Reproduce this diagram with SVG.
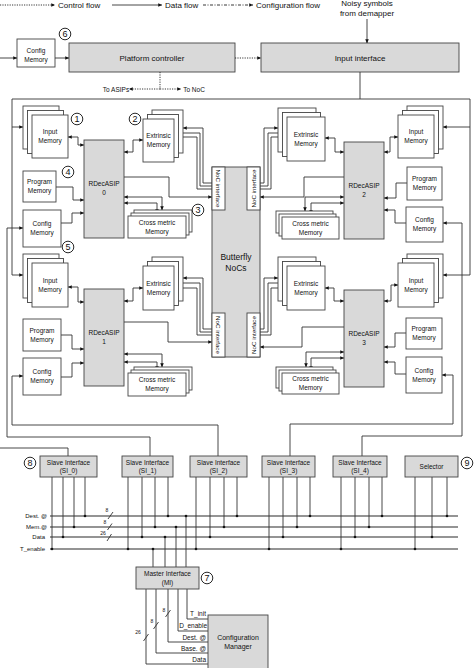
<svg xmlns="http://www.w3.org/2000/svg" width="474" height="668" viewBox="0 0 474 668">
<defs>
<marker id="ah" viewBox="0 0 6 6" refX="5.6" refY="3" markerWidth="4" markerHeight="4" markerUnits="userSpaceOnUse" orient="auto-start-reverse"><path d="M0,0.3 L6,3 L0,5.7z" fill="#111"/></marker>
</defs>
<style>
.w{fill:#fff;stroke:#444;stroke-width:0.9}
.g{fill:#d9d9d9;stroke:#444;stroke-width:0.9}
.ln{fill:none;stroke:#333;stroke-width:0.9}
.bus{fill:none;stroke:#2a2a2a;stroke-width:1.2}
.ctl{fill:none;stroke:#222;stroke-width:0.9;stroke-dasharray:1.2 1.2}
.cfg{fill:none;stroke:#222;stroke-width:0.9;stroke-dasharray:3 1.5 1 1.5}
text{font-family:"Liberation Sans",Arial,sans-serif;fill:#111}
.t{font-size:6.5px;text-anchor:middle}
.L{font-size:8px}
.Lm{font-size:8px;text-anchor:middle}
.s{font-size:6px;text-anchor:end}
.n{font-size:5px;text-anchor:middle}
.dot{fill:#111}
.c{fill:#fff;stroke:#111;stroke-width:0.9}
.cn{font-size:9px;text-anchor:middle}
.ni{font-size:6.2px;text-anchor:middle}
</style>

<g id="legend">
<line class="ctl" x1="0" y1="5" x2="55" y2="5" marker-end="url(#ah)"/>
<text class="L" x="58" y="8">Control flow</text>
<line class="ln" x1="112" y1="5" x2="162" y2="5" marker-end="url(#ah)"/>
<text class="L" x="165" y="8">Data flow</text>
<line class="cfg" x1="203" y1="5" x2="253" y2="5" marker-end="url(#ah)"/>
<text class="L" x="256" y="8">Configuration flow</text>
<text class="Lm" x="367" y="5.5">Noisy symbols</text>
<text class="Lm" x="367" y="15.5">from demapper</text>
</g>

<g id="config-memory-top"><rect class="w" x="17" y="39" width="38" height="28"/><text class="t" x="36" y="53">Config</text><text class="t" x="36" y="62">Memory</text>
<circle class="c" cx="65" cy="34" r="5.8"/><text class="cn" x="65" y="37.2">6</text></g>
<g id="platform-controller"><rect class="g" x="69" y="43" width="166" height="29"/><text class="Lm" x="152" y="60.5">Platform controller</text></g>
<g id="input-interface"><rect class="g" x="261" y="43" width="198" height="29"/><text class="Lm" x="360" y="60.5">Input interface</text></g>
<g id="to-labels"><text class="t" x="116" y="91.5">To ASIPs</text><text class="t" x="194" y="91.5">To NoC</text></g>

<g id="connectors">
<line class="ln" x1="367" y1="19" x2="367" y2="43" marker-end="url(#ah)"/>
<line class="ln" x1="0" y1="58" x2="17" y2="58" marker-end="url(#ah)"/>
<line class="ln" x1="55" y1="58" x2="69" y2="58" marker-end="url(#ah)"/>
<line class="ctl" x1="235" y1="58" x2="261" y2="58" marker-end="url(#ah)"/>
<line class="ctl" x1="160" y1="72" x2="160" y2="89"/>
<line class="ctl" x1="160" y1="89" x2="129" y2="89" marker-end="url(#ah)"/>
<line class="ctl" x1="160" y1="89" x2="181" y2="89" marker-end="url(#ah)"/>
<path class="ln" d="M360,72 V99"/>
<path class="ln" d="M470,99 H12 V275 H23" marker-end="url(#ah)"/>
<path class="ln" d="M12,127 H23" marker-end="url(#ah)"/>
<path class="ln" d="M470,99 V275 H443" marker-end="url(#ah)"/>
<path class="ln" d="M470,127 H443" marker-end="url(#ah)"/>
<path class="ln" d="M56,187 H73 V200 H84" marker-end="url(#ah)"/>
<path class="ln" d="M61,223 H72 V213 H84" marker-end="url(#ah)"/>
<path class="ln" d="M61,335 H72 V349 H84" marker-end="url(#ah)"/>
<path class="ln" d="M61,377 H72 V363 H84" marker-end="url(#ah)"/>
<path class="ln" d="M407,183 H396 V198 H384" marker-end="url(#ah)"/>
<path class="ln" d="M406,223 H395 V210 H384" marker-end="url(#ah)"/>
<path class="ln" d="M406,333 H395 V347 H384" marker-end="url(#ah)"/>
<path class="ln" d="M406,374 H395 V362 H384" marker-end="url(#ah)"/>
<path class="ln" d="M68,137 H78 V145 H84" marker-start="url(#ah)" marker-end="url(#ah)"/>
<path class="ln" d="M68,287 H78 V302 H84" marker-start="url(#ah)" marker-end="url(#ah)"/>
<path class="ln" d="M398,137 H390 V152 H384" marker-start="url(#ah)" marker-end="url(#ah)"/>
<path class="ln" d="M398,285 H391 V301 H384" marker-start="url(#ah)" marker-end="url(#ah)"/>
<path class="ln" d="M124,152 H133 V140 H143" marker-start="url(#ah)" marker-end="url(#ah)"/>
<path class="ln" d="M124,301 H133 V288 H143" marker-start="url(#ah)" marker-end="url(#ah)"/>
<path class="ln" d="M325,138 H335 V152 H344" marker-start="url(#ah)" marker-end="url(#ah)"/>
<path class="ln" d="M325,288 H334 V301 H344" marker-start="url(#ah)" marker-end="url(#ah)"/>
<path class="ln" d="M124,197 H162 V210" marker-start="url(#ah)" marker-end="url(#ah)"/>
<path class="ln" d="M124,203 H157 V213" marker-start="url(#ah)" marker-end="url(#ah)"/>
<path class="ln" d="M124,354 H162 V367" marker-start="url(#ah)" marker-end="url(#ah)"/>
<path class="ln" d="M124,362 H157 V370" marker-start="url(#ah)" marker-end="url(#ah)"/>
<path class="ln" d="M344,197 H305 V211" marker-start="url(#ah)" marker-end="url(#ah)"/>
<path class="ln" d="M344,203 H311 V214" marker-start="url(#ah)" marker-end="url(#ah)"/>
<path class="ln" d="M344,352 H306 V367" marker-start="url(#ah)" marker-end="url(#ah)"/>
<path class="ln" d="M344,358 H311 V370" marker-start="url(#ah)" marker-end="url(#ah)"/>
<path class="ln" d="M124,177 H169 V197 H212" marker-end="url(#ah)"/>
<path class="ln" d="M124,322 H168 V342 H212" marker-end="url(#ah)"/>
<path class="ln" d="M344,177 H304 V197 H260" marker-end="url(#ah)"/>
<path class="ln" d="M344,327 H302 V347 H260" marker-end="url(#ah)"/>
<path class="ln" d="M212,183 H203 V128 H183" marker-end="url(#ah)"/>
<path class="ln" d="M212,186 H200 V133 H178.5" marker-end="url(#ah)"/>
<path class="ln" d="M212,189 H197 V137 H174" marker-end="url(#ah)"/>
<path class="ln" d="M212,329 H203 V278 H183" marker-end="url(#ah)"/>
<path class="ln" d="M212,332 H200 V283 H178.5" marker-end="url(#ah)"/>
<path class="ln" d="M212,335 H197 V288 H174" marker-end="url(#ah)"/>
<path class="ln" d="M260,183 H264 V128 H278" marker-end="url(#ah)"/>
<path class="ln" d="M260,186 H268 V133 H282.5" marker-end="url(#ah)"/>
<path class="ln" d="M260,189 H271 V137 H287" marker-end="url(#ah)"/>
<path class="ln" d="M260,329 H264 V278 H278" marker-end="url(#ah)"/>
<path class="ln" d="M260,332 H268 V283 H282.5" marker-end="url(#ah)"/>
<path class="ln" d="M260,335 H271 V288 H287" marker-end="url(#ah)"/>
<path class="ln" d="M150,456 V437 H7 V228 H23" marker-end="url(#ah)"/>
<path class="ln" d="M218,456 V425 H12 V376 H23" marker-end="url(#ah)"/>
<path class="ln" d="M290,456 V424 H453 V375 H442" marker-end="url(#ah)"/>
<path class="ln" d="M362,456 V436 H462 V223 H443" marker-end="url(#ah)"/>
<path class="ln" d="M0,448 H68 V456"/>
<path class="bus" d="M50,516 H458 M50,527 H458 M50,537 H458 M50,549 H458"/>
<path class="ln" d="M52,477 V549 M63,477 V537 M74,477 V527 M85,477 V516
M128,477 V549 M142,477 V537 M155,477 V527 M168,477 V516
M196,477 V549 M210,477 V537 M224,477 V527 M237,477 V516
M269,477 V549 M283,477 V537 M297,477 V527 M310,477 V516
M341,477 V549 M355,477 V537 M369,477 V527 M382,477 V516
M415,477 V549 M432,477 V537 M447,477 V516
M153,567 V549 M165,567 V537 M176,567 V527 M186,567 V516"/>
<g class="dot">
<circle cx="52" cy="549" r="1.3"/><circle cx="128" cy="549" r="1.3"/><circle cx="153" cy="549" r="1.3"/><circle cx="196" cy="549" r="1.3"/><circle cx="269" cy="549" r="1.3"/><circle cx="341" cy="549" r="1.3"/><circle cx="415" cy="549" r="1.3"/>
<circle cx="63" cy="537" r="1.3"/><circle cx="142" cy="537" r="1.3"/><circle cx="165" cy="537" r="1.3"/><circle cx="210" cy="537" r="1.3"/><circle cx="283" cy="537" r="1.3"/><circle cx="355" cy="537" r="1.3"/><circle cx="432" cy="537" r="1.3"/>
<circle cx="74" cy="527" r="1.3"/><circle cx="155" cy="527" r="1.3"/><circle cx="176" cy="527" r="1.3"/><circle cx="224" cy="527" r="1.3"/><circle cx="297" cy="527" r="1.3"/><circle cx="369" cy="527" r="1.3"/>
<circle cx="85" cy="516" r="1.3"/><circle cx="168" cy="516" r="1.3"/><circle cx="186" cy="516" r="1.3"/><circle cx="237" cy="516" r="1.3"/><circle cx="310" cy="516" r="1.3"/><circle cx="382" cy="516" r="1.3"/><circle cx="447" cy="516" r="1.3"/>
</g>
<path class="ln" d="M108,519 L113,512 M107.5,530 L112,523.5 M107,541 L111.5,534"/>
<path class="ln" d="M146,589 V664 H208 M156,589 V653 H208 M168,589 V642 H208 M178,589 V631 H208 M187,589 V619 H208"/>
<path class="ln" d="M143.5,641 L148.5,634 M153.5,629 L158.5,622 M165.5,617 L170.5,610"/>
</g>

<g id="bus-labels">
<text class="s" x="47" y="518">Dest. @</text>
<text class="s" x="47" y="529">Mem.@</text>
<text class="s" x="45" y="539">Data</text>
<text class="s" x="45" y="551">T_enable</text>
<text class="n" x="107" y="512">8</text>
<text class="n" x="105" y="524">8</text>
<text class="n" x="103" y="535">26</text>
<text class="n" x="138" y="634">26</text>
<text class="n" x="152" y="623">8</text>
<text class="n" x="164" y="612">8</text>
<text class="s" x="206" y="616" style="font-size:6.5px">T_init</text>
<text class="s" x="207" y="628" style="font-size:6.5px">D_enable</text>
<text class="s" x="206" y="639.5" style="font-size:6.5px">Dest. @</text>
<text class="s" x="206" y="650.5" style="font-size:6.5px">Base. @</text>
<text class="s" x="206" y="662" style="font-size:6.5px">Data</text>
</g>

<g id="input-memory-0"><rect class="w" x="23" y="106" width="36" height="43"/><rect class="w" x="27.5" y="110.5" width="36" height="43"/><rect class="w" x="32" y="115" width="36" height="43"/><text class="t" x="50" y="134.3">Input</text><text class="t" x="50" y="143.3">Memory</text>
<circle class="c" cx="77" cy="119" r="5.8"/><text class="cn" x="77" y="122.2">1</text></g>
<g id="extrinsic-memory-0"><rect class="w" x="152" y="110" width="31" height="43"/><rect class="w" x="147.5" y="114.5" width="31" height="43"/><rect class="w" x="143" y="119" width="31" height="43"/><text class="t" x="158.5" y="138.3">Extrinsic</text><text class="t" x="158.5" y="147.3">Memory</text>
<circle class="c" cx="135" cy="119" r="5.8"/><text class="cn" x="135" y="122.2">2</text></g>
<g id="rdecasip-0"><rect class="g" x="84" y="140" width="40" height="98"/><text class="t" x="104" y="186.3">RDecASIP</text><text class="t" x="104" y="195.3">0</text></g>
<g id="program-memory-0"><rect class="w" x="23" y="171" width="33" height="31"/><text class="t" x="39.5" y="184.3">Program</text><text class="t" x="39.5" y="193.3">Memory</text>
<circle class="c" cx="68" cy="172" r="5.8"/><text class="cn" x="68" y="175.2">4</text></g>
<g id="config-memory-0"><rect class="w" x="23" y="210" width="38" height="37"/><text class="t" x="42" y="226.3">Config</text><text class="t" x="42" y="235.3">Memory</text>
<circle class="c" cx="68" cy="247" r="5.8"/><text class="cn" x="68" y="250.2">5</text></g>
<g id="cross-metric-memory-0"><rect class="w" x="134" y="210" width="58" height="22"/><rect class="w" x="131" y="213" width="58" height="22"/><rect class="w" x="128" y="216" width="58" height="22"/><text class="t" x="157" y="224.8">Cross metric</text><text class="t" x="157" y="233.8">Memory</text>
<circle class="c" cx="198" cy="210" r="5.8"/><text class="cn" x="198" y="213.2">3</text></g>

<g id="input-memory-1"><rect class="w" x="23" y="254" width="36" height="44"/><rect class="w" x="27.5" y="258.5" width="36" height="44"/><rect class="w" x="32" y="263" width="36" height="44"/><text class="t" x="50" y="282.8">Input</text><text class="t" x="50" y="291.8">Memory</text></g>
<g id="extrinsic-memory-1"><rect class="w" x="152" y="257" width="31" height="44"/><rect class="w" x="147.5" y="261.5" width="31" height="44"/><rect class="w" x="143" y="266" width="31" height="44"/><text class="t" x="158.5" y="285.8">Extrinsic</text><text class="t" x="158.5" y="294.8">Memory</text></g>
<g id="rdecasip-1"><rect class="g" x="84" y="289" width="40" height="97"/><text class="t" x="104" y="335.3">RDecASIP</text><text class="t" x="104" y="344.3">1</text></g>
<g id="program-memory-1"><rect class="w" x="23" y="319" width="38" height="32"/><text class="t" x="42" y="332.8">Program</text><text class="t" x="42" y="341.8">Memory</text></g>
<g id="config-memory-1"><rect class="w" x="23" y="358" width="38" height="37"/><text class="t" x="42" y="374.3">Config</text><text class="t" x="42" y="383.3">Memory</text></g>
<g id="cross-metric-memory-1"><rect class="w" x="134" y="367" width="58" height="23"/><rect class="w" x="131" y="370" width="58" height="23"/><rect class="w" x="128" y="373" width="58" height="23"/><text class="t" x="157" y="382.3">Cross metric</text><text class="t" x="157" y="391.3">Memory</text></g>

<g id="input-memory-2"><rect class="w" x="407" y="106" width="36" height="43"/><rect class="w" x="402.5" y="110.5" width="36" height="43"/><rect class="w" x="398" y="115" width="36" height="43"/><text class="t" x="416" y="134.3">Input</text><text class="t" x="416" y="143.3">Memory</text></g>
<g id="extrinsic-memory-2"><rect class="w" x="278" y="108" width="38" height="44"/><rect class="w" x="282.5" y="112.5" width="38" height="44"/><rect class="w" x="287" y="117" width="38" height="44"/><text class="t" x="306" y="136.8">Extrinsic</text><text class="t" x="306" y="145.8">Memory</text></g>
<g id="rdecasip-2"><rect class="g" x="344" y="142" width="40" height="97"/><text class="t" x="364" y="188.3">RDecASIP</text><text class="t" x="364" y="197.3">2</text></g>
<g id="program-memory-2"><rect class="w" x="407" y="167" width="35" height="33"/><text class="t" x="424.5" y="181.3">Program</text><text class="t" x="424.5" y="190.3">Memory</text></g>
<g id="config-memory-2"><rect class="w" x="406" y="207" width="37" height="35"/><text class="t" x="424.5" y="222.3">Config</text><text class="t" x="424.5" y="231.3">Memory</text></g>
<g id="cross-metric-memory-2"><rect class="w" x="276" y="211" width="57" height="22"/><rect class="w" x="279" y="214" width="57" height="22"/><rect class="w" x="282" y="217" width="57" height="22"/><text class="t" x="310.5" y="225.8">Cross metric</text><text class="t" x="310.5" y="234.8">Memory</text></g>

<g id="input-memory-3"><rect class="w" x="407" y="254" width="36" height="44"/><rect class="w" x="402.5" y="258.5" width="36" height="44"/><rect class="w" x="398" y="263" width="36" height="44"/><text class="t" x="416" y="282.8">Input</text><text class="t" x="416" y="291.8">Memory</text></g>
<g id="extrinsic-memory-3"><rect class="w" x="278" y="257" width="38" height="44"/><rect class="w" x="282.5" y="261.5" width="38" height="44"/><rect class="w" x="287" y="266" width="38" height="44"/><text class="t" x="306" y="285.8">Extrinsic</text><text class="t" x="306" y="294.8">Memory</text></g>
<g id="rdecasip-3"><rect class="g" x="344" y="290" width="40" height="97"/><text class="t" x="364" y="336.3">RDecASIP</text><text class="t" x="364" y="345.3">3</text></g>
<g id="program-memory-3"><rect class="w" x="406" y="318" width="36" height="31"/><text class="t" x="424" y="331.3">Program</text><text class="t" x="424" y="340.3">Memory</text></g>
<g id="config-memory-3"><rect class="w" x="406" y="357" width="36" height="36"/><text class="t" x="424" y="372.8">Config</text><text class="t" x="424" y="381.8">Memory</text></g>
<g id="cross-metric-memory-3"><rect class="w" x="276" y="367" width="57" height="21"/><rect class="w" x="279" y="370" width="57" height="21"/><rect class="w" x="282" y="373" width="57" height="21"/><text class="t" x="310.5" y="381.3">Cross metric</text><text class="t" x="310.5" y="390.3">Memory</text></g>

<g id="butterfly-nocs"><rect class="g" x="212" y="167" width="48" height="190"/><text class="Lm" x="236" y="260" style="font-size:8.5px">Butterfly</text><text class="Lm" x="236" y="271" style="font-size:8.5px">NoCs</text>
<rect class="w" x="212" y="167" width="13" height="43"/><text class="ni" transform="translate(218.5,188.5) rotate(90)" y="2.2">NoC interface</text>
<rect class="w" x="247" y="167" width="13" height="43"/><text class="ni" transform="translate(253.5,188.5) rotate(-90)" y="2.2">NoC interface</text>
<rect class="w" x="212" y="313" width="13" height="44"/><text class="ni" transform="translate(218.5,335) rotate(90)" y="2.2">NoC interface</text>
<rect class="w" x="247" y="313" width="13" height="44"/><text class="ni" transform="translate(253.5,335) rotate(-90)" y="2.2">NoC interface</text></g>

<g id="si-0"><rect class="g" x="40" y="456" width="57" height="21"/><text class="t" x="68.5" y="464.5">Slave Interface</text><text class="t" x="68.5" y="473">(SI_0)</text>
<circle class="c" cx="30" cy="463" r="5.8"/><text class="cn" x="30" y="466.2">8</text></g>
<g id="si-1"><rect class="g" x="122" y="456" width="51" height="21"/><text class="t" x="147.5" y="464.5">Slave Interface</text><text class="t" x="147.5" y="473">(SI_1)</text></g>
<g id="si-2"><rect class="g" x="190" y="456" width="57" height="21"/><text class="t" x="218.5" y="464.5">Slave Interface</text><text class="t" x="218.5" y="473">(SI_2)</text></g>
<g id="si-3"><rect class="g" x="262" y="456" width="53" height="21"/><text class="t" x="288.5" y="464.5">Slave Interface</text><text class="t" x="288.5" y="473">(SI_3)</text></g>
<g id="si-4"><rect class="g" x="333" y="456" width="54" height="21"/><text class="t" x="360" y="464.5">Slave Interface</text><text class="t" x="360" y="473">(SI_4)</text></g>
<g id="selector"><rect class="g" x="405" y="456" width="53" height="21"/><text class="t" x="431.5" y="469">Selector</text>
<circle class="c" cx="467" cy="463" r="5.8"/><text class="cn" x="467" y="466.2">9</text></g>

<g id="master-interface"><rect class="g" x="136" y="567" width="63" height="22"/><text class="t" x="167.5" y="576">Master Interface</text><text class="t" x="167.5" y="585">(MI)</text>
<circle class="c" cx="207" cy="578" r="5.8"/><text class="cn" x="207" y="581.2">7</text></g>
<g id="configuration-manager"><rect class="g" x="208" y="615" width="60" height="60"/><text class="t" x="238" y="639.5" style="font-size:7px">Configuration</text><text class="t" x="238" y="648.5" style="font-size:7px">Manager</text></g>
</svg>
